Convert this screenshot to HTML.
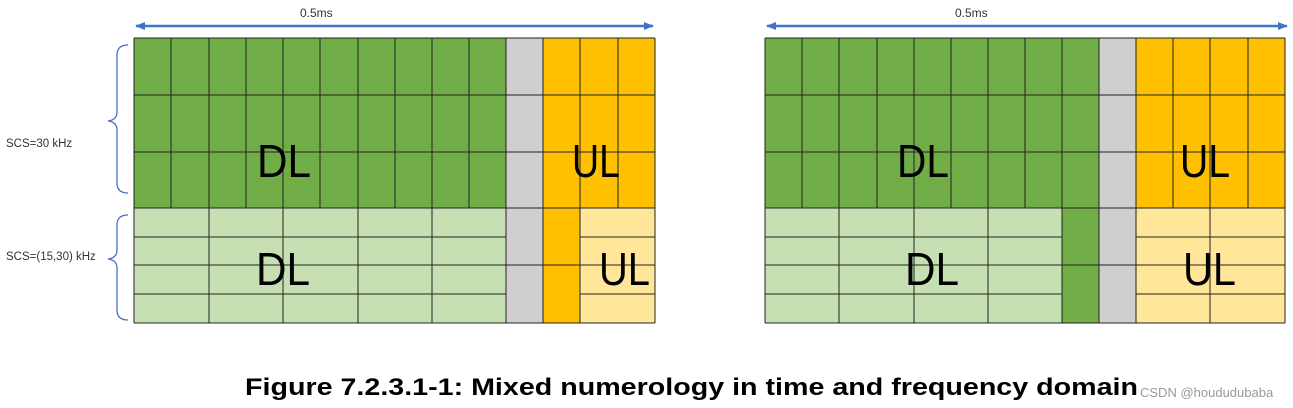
<!DOCTYPE html>
<html><head><meta charset="utf-8"><style>
html,body{margin:0;padding:0;background:#fff;}
svg{display:block;}
</style></head><body>
<svg width="1293" height="408" xmlns="http://www.w3.org/2000/svg" font-family="Liberation Sans, sans-serif">
<defs>
<marker id="ah" markerWidth="10" markerHeight="8" refX="9" refY="4" orient="auto-start-reverse" markerUnits="userSpaceOnUse"><path d="M0,0 L10,4 L0,8 z" fill="#4472c4"/></marker>
</defs>
<line x1="136" y1="26" x2="653" y2="26" stroke="#4472c4" stroke-width="2.5" marker-start="url(#ah)" marker-end="url(#ah)"/>
<text x="300" y="17" font-size="12" fill="#333">0.5ms</text>
<line x1="767" y1="26" x2="1287" y2="26" stroke="#4472c4" stroke-width="2.5" marker-start="url(#ah)" marker-end="url(#ah)"/>
<text x="955" y="17" font-size="12" fill="#333">0.5ms</text>

<path d="M128,45 Q117,45 117,55 L117,112 Q117,120 108,121 Q117,122 117,130 L117,183 Q117,193 128,193" fill="none" stroke="#4472c4" stroke-width="1.3"/>
<path d="M128,215 Q117,215 117,225 L117,250 Q117,258 108,259 Q117,260 117,268 L117,310 Q117,320 128,320" fill="none" stroke="#4472c4" stroke-width="1.3"/>
<text x="6" y="147" font-size="11.5" fill="#333">SCS=30 kHz</text>
<text x="6" y="260" font-size="11.5" fill="#333">SCS=(15,30) kHz</text>

<g stroke="#222" stroke-width="1">
<rect x="134" y="38" width="372" height="170" fill="#70ad47" stroke="none"/>
<rect x="506" y="38" width="37" height="285" fill="#d0cece" stroke="none"/>
<rect x="543" y="38" width="112" height="170" fill="#ffc000" stroke="none"/>
<rect x="134" y="208" width="372" height="115" fill="#c6e0b4" stroke="none"/>
<rect x="543" y="208" width="37" height="115" fill="#ffc000" stroke="none"/>
<rect x="580" y="208" width="75" height="115" fill="#ffe699" stroke="none"/>
<path d="M171,38V208 M209,38V208 M246,38V208 M283,38V208 M320,38V208 M358,38V208 M395,38V208 M432,38V208 M469,38V208 M580,38V208 M618,38V208"/>
<path d="M134,38H655 M134,95H655 M134,152H655 M134,208H655 M134,323H655"/>
<path d="M134,38V323 M506,38V323 M543,38V323 M580,208V323 M655,38V323"/>
<path d="M209,208V323 M283,208V323 M358,208V323 M432,208V323"/>
<path d="M134,237H506 M580,237H655 M134,265H655 M134,294H506 M580,294H655"/>
</g>
<text x="257" y="177" font-size="46" fill="#000" textLength="54" lengthAdjust="spacingAndGlyphs">DL</text>
<text x="572" y="177" font-size="46" fill="#000" textLength="48" lengthAdjust="spacingAndGlyphs">UL</text>
<text x="256" y="285" font-size="46" fill="#000" textLength="54" lengthAdjust="spacingAndGlyphs">DL</text>
<text x="599" y="285" font-size="46" fill="#000" textLength="51" lengthAdjust="spacingAndGlyphs">UL</text>

<g stroke="#222" stroke-width="1">
<rect x="765" y="38" width="334" height="170" fill="#70ad47" stroke="none"/>
<rect x="1062" y="208" width="37" height="115" fill="#70ad47" stroke="none"/>
<rect x="1099" y="38" width="37" height="285" fill="#d0cece" stroke="none"/>
<rect x="1136" y="38" width="149" height="170" fill="#ffc000" stroke="none"/>
<rect x="765" y="208" width="297" height="115" fill="#c6e0b4" stroke="none"/>
<rect x="1136" y="208" width="149" height="115" fill="#ffe699" stroke="none"/>
<path d="M802,38V208 M839,38V208 M877,38V208 M914,38V208 M951,38V208 M988,38V208 M1025,38V208 M1173,38V208 M1210,38V208 M1248,38V208"/>
<path d="M765,38H1285 M765,95H1285 M765,152H1285 M765,208H1285 M765,323H1285"/>
<path d="M765,38V323 M1062,38V323 M1099,38V323 M1136,38V323 M1285,38V323"/>
<path d="M839,208V323 M914,208V323 M988,208V323 M1210,208V323"/>
<path d="M765,237H1062 M1136,237H1285 M765,265H1285 M765,294H1062 M1136,294H1285"/>
</g>
<text x="897" y="177" font-size="46" fill="#000" textLength="52" lengthAdjust="spacingAndGlyphs">DL</text>
<text x="1180" y="177" font-size="46" fill="#000" textLength="50" lengthAdjust="spacingAndGlyphs">UL</text>
<text x="905" y="285" font-size="46" fill="#000" textLength="54" lengthAdjust="spacingAndGlyphs">DL</text>
<text x="1183" y="285" font-size="46" fill="#000" textLength="53" lengthAdjust="spacingAndGlyphs">UL</text>

<text x="245" y="395" font-size="24" font-weight="bold" fill="#000" textLength="893" lengthAdjust="spacingAndGlyphs">Figure 7.2.3.1-1: Mixed numerology in time and frequency domain</text>
<text x="1140" y="397" font-size="13" fill="#999">CSDN @hoududubaba</text>
</svg>
</body></html>
